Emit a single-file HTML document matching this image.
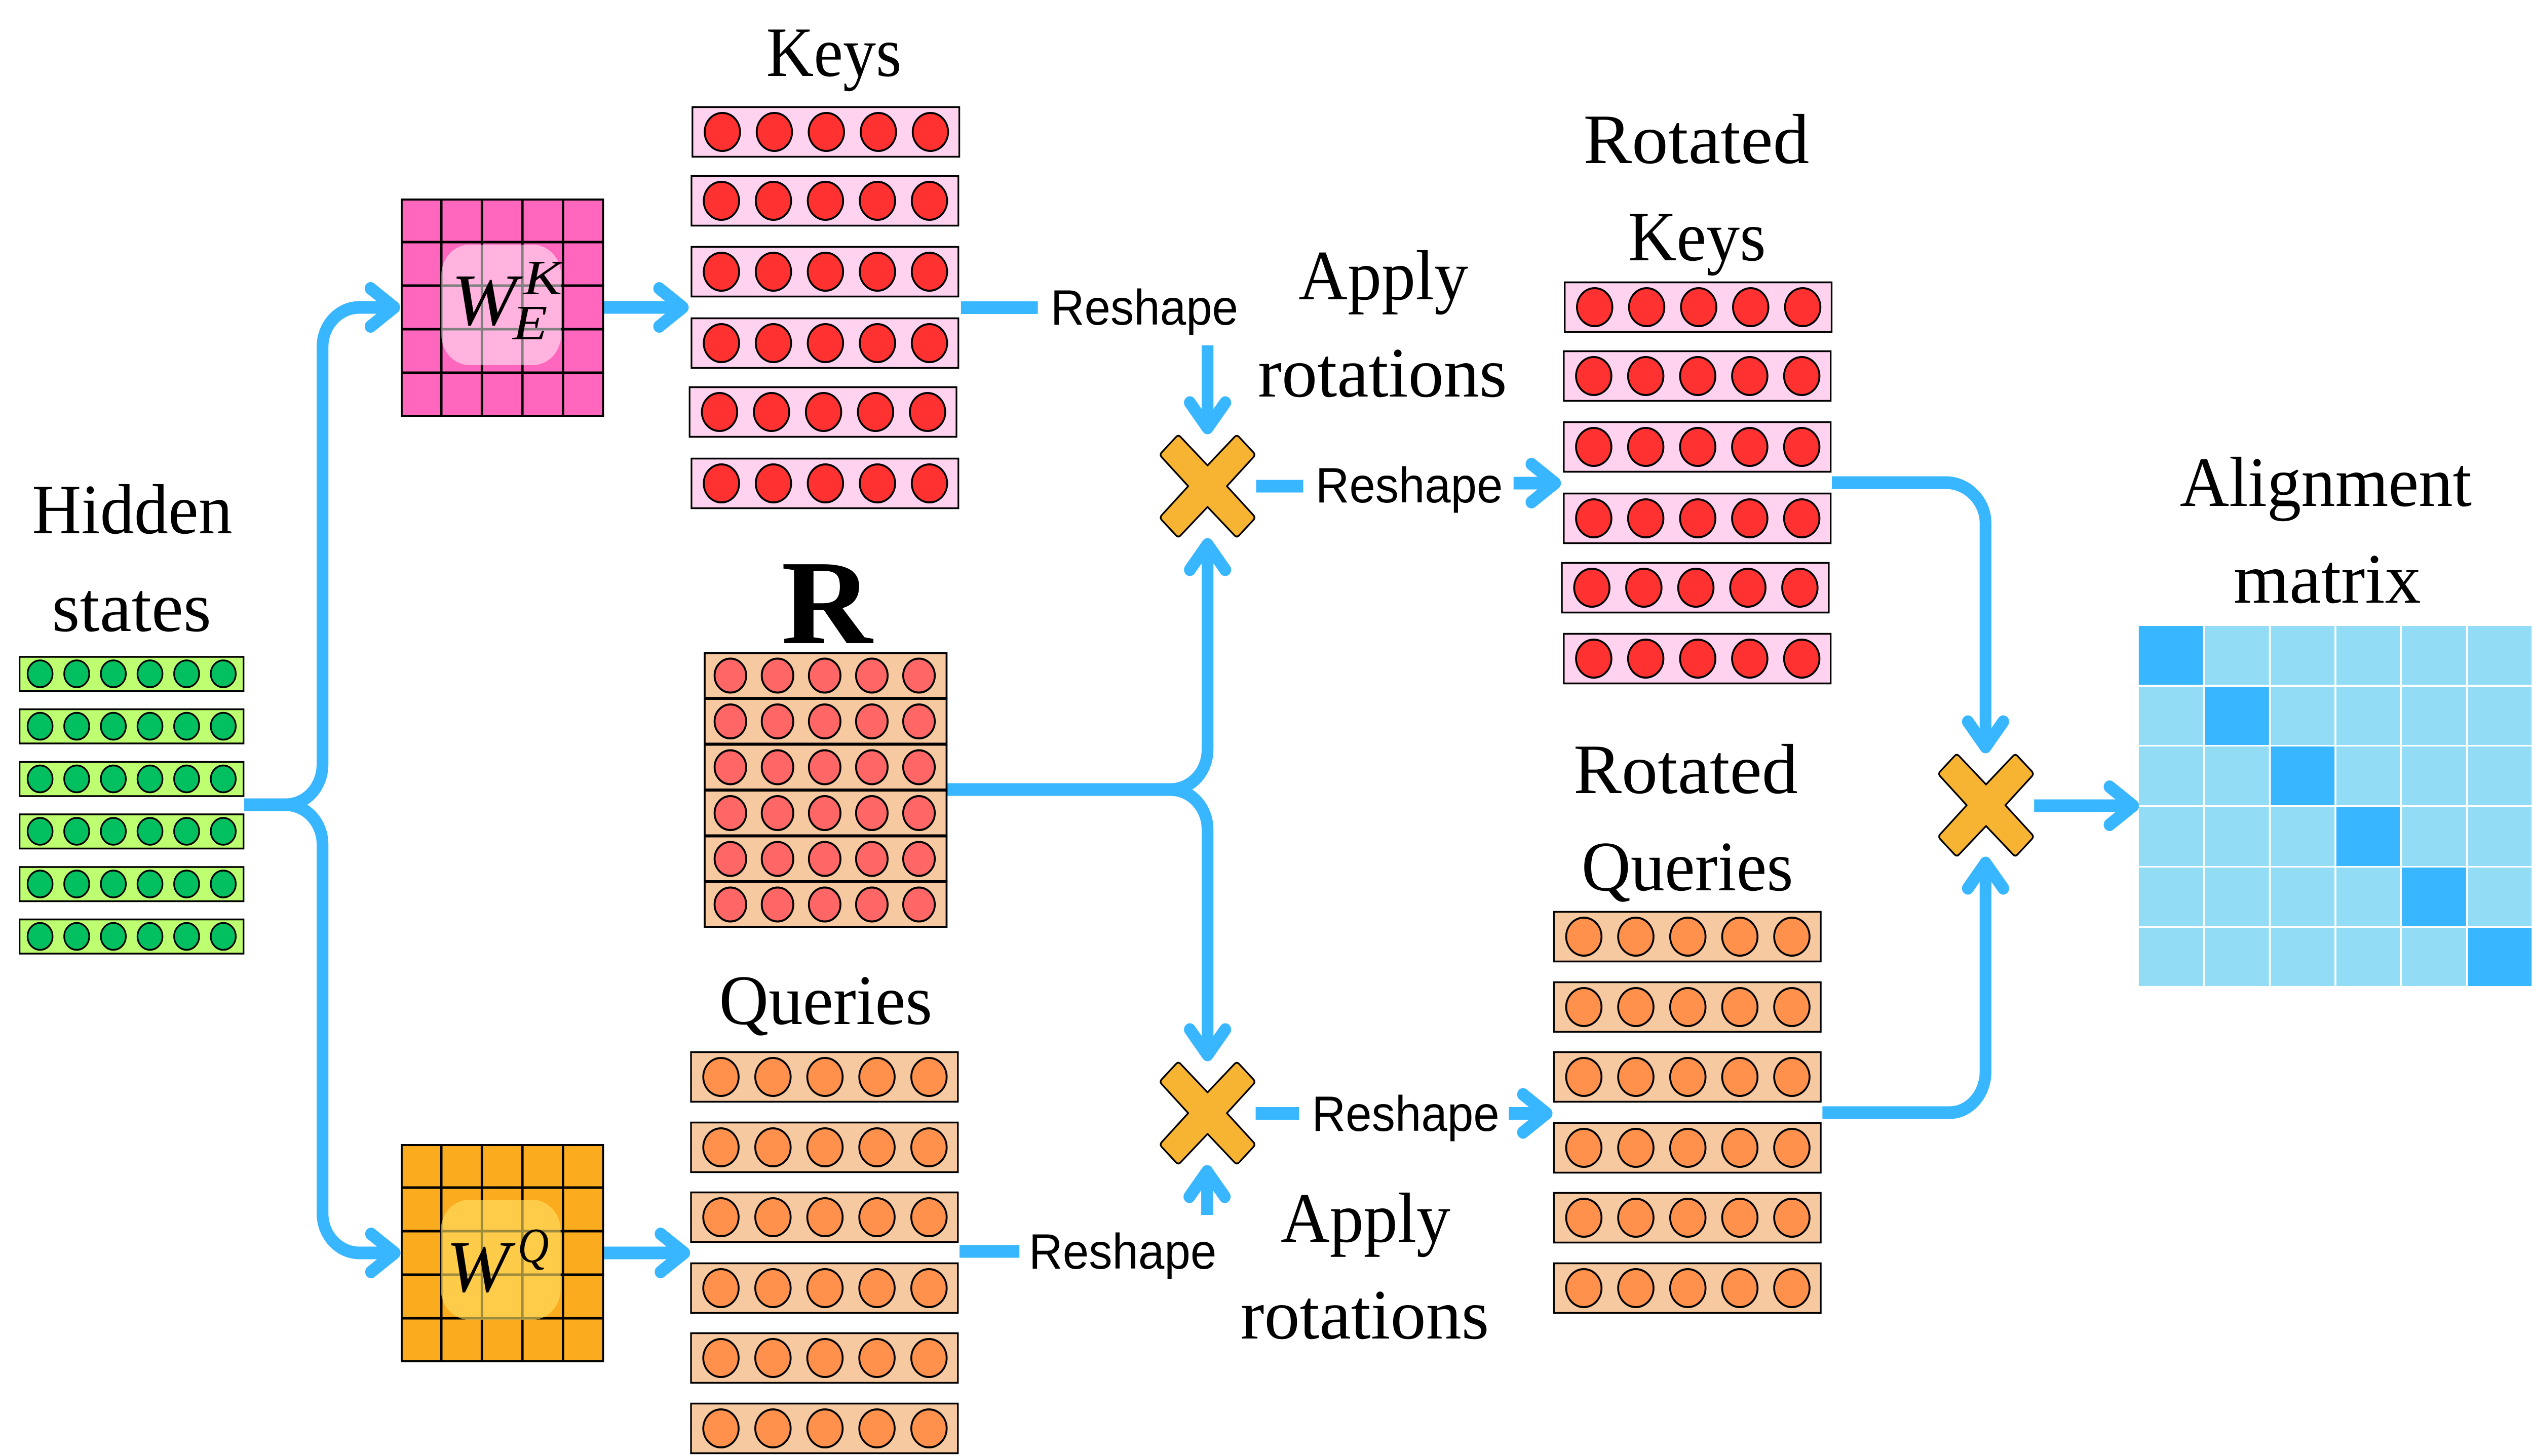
<!DOCTYPE html>
<html><head><meta charset="utf-8"><title>Diagram</title>
<style>html,body{margin:0;padding:0;background:#fff;width:100%;height:100%;overflow:hidden}svg{display:block;position:fixed;left:0;top:0;width:100vw;height:100vh}
.s{font-family:"Liberation Serif",serif;font-size:140px;fill:#000}
.r{font-family:"Liberation Sans",sans-serif;font-size:98px;fill:#000}
.m{font-family:"Liberation Serif",serif;font-style:italic;fill:#000}
.b{fill:none;stroke:#38B6FF;stroke-width:25}
.h{fill:none;stroke:#38B6FF;stroke-width:25;stroke-linecap:round;stroke-linejoin:round}
</style></head><body>
<svg xmlns="http://www.w3.org/2000/svg" viewBox="0 0 5372 2875" preserveAspectRatio="none">
<defs>
<g id="kr"><rect x="1.5" y="1.5" width="566" height="98" fill="#FFD3EF" stroke="#000" stroke-width="3.5"/>
<g fill="#FF3131" stroke="#000" stroke-width="4"><circle cx="65" cy="50.5" r="37.5"/><circle cx="175.3" cy="50.5" r="37.5"/><circle cx="285.6" cy="50.5" r="37.5"/><circle cx="395.9" cy="50.5" r="37.5"/><circle cx="506.2" cy="50.5" r="37.5"/></g></g>
<g id="qr"><rect x="1.5" y="1.5" width="566" height="98" fill="#F7C9A0" stroke="#000" stroke-width="3.5"/>
<g fill="#FF914D" stroke="#000" stroke-width="4"><circle cx="65" cy="50.5" r="37.5"/><circle cx="175.3" cy="50.5" r="37.5"/><circle cx="285.6" cy="50.5" r="37.5"/><circle cx="395.9" cy="50.5" r="37.5"/><circle cx="506.2" cy="50.5" r="37.5"/></g></g>
<g id="rr"><rect x="1.5" y="1.5" width="513" height="88.5" fill="#F7C9A0" stroke="#000" stroke-width="4"/>
<g fill="#FF6666" stroke="#000" stroke-width="4"><circle cx="56" cy="46" r="33.5"/><circle cx="156" cy="46" r="33.5"/><circle cx="256" cy="46" r="33.5"/><circle cx="356" cy="46" r="33.5"/><circle cx="456" cy="46" r="33.5"/></g></g>
<g id="hr"><rect x="1.5" y="1.5" width="475" height="67.5" fill="#BEFF71" stroke="#000" stroke-width="3.5"/>
<g fill="#02BF60" stroke="#000" stroke-width="3.5"><circle cx="45" cy="35" r="26.5"/><circle cx="122.7" cy="35" r="26.5"/><circle cx="200.4" cy="35" r="26.5"/><circle cx="278.1" cy="35" r="26.5"/><circle cx="355.8" cy="35" r="26.5"/><circle cx="433.5" cy="35" r="26.5"/></g></g>
<path id="x" fill="#F7B432" stroke="#000" stroke-width="3.5" stroke-linejoin="round" d="M104,63 L161,7 Q166,2 171,7 L201,37 Q206,42 201,47 L145,104 L201,161 Q206,166 201,171 L171,201 Q166,206 161,201 L104,145 L47,201 Q42,206 37,201 L7,171 Q2,166 7,161 L63,104 L7,47 Q2,42 7,37 L37,7 Q42,2 47,7 Z"/>
<polyline id="a" class="h" points="0,0 50,37.5 0,75"/>
<g id="gl" stroke="#000" stroke-width="5" fill="none"><rect x="2" y="2" width="427" height="427" stroke-width="4"/><path d="M86,0V431M172,0V431M258,0V431M344,0V431M0,86H431M0,172H431M0,258H431M0,344H431"/></g>
</defs>

<rect width="5372" height="2875" fill="#fff"/>

<!-- connectors -->
<path class="b" d="M518,1589 H606 C649,1589 684,1554 684,1509 V685 C684,642 719,607 762,607 H836"/>
<path class="b" d="M518,1589 H606 C649,1589 684,1624 684,1667 V2396 C684,2439 719,2474 762,2474 H837"/>
<use href="#a" transform="translate(836,607) translate(-50,-37.5)"/>
<use href="#a" transform="translate(837,2474) translate(-50,-37.5)"/>
<path class="b" d="M1281,607 H1448"/><use href="#a" transform="translate(1448,607) translate(-50,-37.5)"/>
<path class="b" d="M1281,2474 H1451"/><use href="#a" transform="translate(1451,2474) translate(-50,-37.5)"/>
<path class="b" d="M2038,607.5 H2201"/>
<path class="b" d="M2561,682 V845"/><use href="#a" transform="translate(2561,845) rotate(90) translate(-50,-37.5)"/>
<path class="b" d="M2035,2471 H2162"/>
<path class="b" d="M2560,2399 V2313"/><use href="#a" transform="translate(2560,2313) rotate(-90) translate(-50,-37.5)"/>
<path class="b" d="M2009,1559 H2482 C2526,1559 2561,1524 2561,1480 V1075"/><use href="#a" transform="translate(2561,1075) rotate(-90) translate(-50,-37.5)"/>
<path class="b" d="M2009,1559 H2482 C2526,1559 2561,1594 2561,1638 V2083"/><use href="#a" transform="translate(2561,2083) rotate(90) translate(-50,-37.5)"/>
<path class="b" d="M2664,960 H2764"/>
<path class="b" d="M3210,954 H3298"/><use href="#a" transform="translate(3298,954) translate(-50,-37.5)"/>
<path class="b" d="M2663,2198.5 H2755"/>
<path class="b" d="M3200,2198.5 H3280"/><use href="#a" transform="translate(3280,2198.5) translate(-50,-37.5)"/>
<path class="b" d="M3885,953 H4127 C4173,953 4211,990 4211,1033 V1475"/><use href="#a" transform="translate(4211,1475) rotate(90) translate(-50,-37.5)"/>
<path class="b" d="M3865,2197 H4135 C4177,2197 4211,2160 4211,2116 V1704"/><use href="#a" transform="translate(4211,1704) rotate(-90) translate(-50,-37.5)"/>
<path class="b" d="M4314,1591 H4524"/><use href="#a" transform="translate(4524,1591) translate(-50,-37.5)"/>

<!-- hidden states -->
<use href="#hr" x="40" y="1295.5"/><use href="#hr" x="40" y="1399"/><use href="#hr" x="40" y="1503"/><use href="#hr" x="40" y="1606.5"/><use href="#hr" x="40" y="1710.5"/><use href="#hr" x="40" y="1814"/>

<!-- W matrices -->
<rect x="850" y="392" width="431" height="431" fill="#FF66BD"/>
<use href="#gl" x="850" y="392"/>
<rect x="936" y="483" width="254" height="238" rx="60" fill="#fff" fill-opacity=".5"/>
<rect x="850" y="2259" width="431" height="431" fill="#FBAC1E"/>
<use href="#gl" x="850" y="2259"/>
<rect x="935" y="2369" width="254" height="237" rx="60" fill="#FFE163" fill-opacity=".62"/>

<!-- keys -->
<use href="#kr" x="1467" y="210"/><use href="#kr" x="1465" y="346"/><use href="#kr" x="1465" y="486"/><use href="#kr" x="1465" y="627"/><use href="#kr" x="1461" y="763"/><use href="#kr" x="1465" y="904"/>
<!-- rotated keys -->
<use href="#kr" x="3317" y="556"/><use href="#kr" x="3315" y="692"/><use href="#kr" x="3315" y="832"/><use href="#kr" x="3315" y="973"/><use href="#kr" x="3311" y="1110"/><use href="#kr" x="3315" y="1250"/>
<!-- queries -->
<use href="#qr" x="1464" y="2076"/><use href="#qr" x="1464" y="2215"/><use href="#qr" x="1464" y="2353"/><use href="#qr" x="1464" y="2493"/><use href="#qr" x="1464" y="2631"/><use href="#qr" x="1464" y="2770"/>
<!-- rotated queries -->
<use href="#qr" x="3294" y="1799"/><use href="#qr" x="3294" y="1938"/><use href="#qr" x="3294" y="2076"/><use href="#qr" x="3294" y="2216"/><use href="#qr" x="3294" y="2354"/><use href="#qr" x="3294" y="2493"/>
<!-- R block -->
<use href="#rr" x="1493" y="1288"/><use href="#rr" x="1493" y="1378.5"/><use href="#rr" x="1493" y="1469"/><use href="#rr" x="1493" y="1559.5"/><use href="#rr" x="1493" y="1650"/><use href="#rr" x="1493" y="1740"/>

<!-- crosses -->
<use href="#x" x="2457" y="856"/><use href="#x" x="2457" y="2094"/><use href="#x" x="4108" y="1486"/>

<!-- alignment matrix -->
<rect x="4536" y="1236" width="833" height="711" fill="#92DDF5"/>
<g fill="#fff"><rect x="4672" y="1236" width="4" height="711"/><rect x="4812" y="1236" width="4" height="711"/><rect x="4951" y="1236" width="4" height="711"/><rect x="5090" y="1236" width="4" height="711"/><rect x="5230" y="1236" width="4" height="711"/>
<rect x="4536" y="1352" width="833" height="4"/><rect x="4536" y="1471" width="833" height="3"/><rect x="4536" y="1590" width="833" height="4"/><rect x="4536" y="1710" width="833" height="3"/><rect x="4536" y="1829" width="833" height="3"/></g>
<g fill="#38B6FF"><rect x="4536" y="1236" width="136" height="116"/><rect x="4676" y="1356" width="136" height="115"/><rect x="4816" y="1474" width="135" height="116"/><rect x="4955" y="1594" width="135" height="116"/><rect x="5094" y="1713" width="136" height="116"/><rect x="5234" y="1832" width="135" height="115"/></g>

<!-- serif labels -->
<text class="s" x="1625" y="150" textLength="287" lengthAdjust="spacingAndGlyphs">Keys</text>
<text class="s" x="68" y="1053" textLength="425" lengthAdjust="spacingAndGlyphs">Hidden</text>
<text class="s" x="110" y="1246" textLength="338" lengthAdjust="spacingAndGlyphs">states</text>
<text class="s" x="2754" y="591" textLength="360" lengthAdjust="spacingAndGlyphs">Apply</text>
<text class="s" x="2668" y="783" textLength="528" lengthAdjust="spacingAndGlyphs">rotations</text>
<text class="s" x="2716" y="2452" textLength="360" lengthAdjust="spacingAndGlyphs">Apply</text>
<text class="s" x="2631" y="2643" textLength="527" lengthAdjust="spacingAndGlyphs">rotations</text>
<text class="s" x="3358" y="322" textLength="479" lengthAdjust="spacingAndGlyphs">Rotated</text>
<text class="s" x="3453" y="514" textLength="292" lengthAdjust="spacingAndGlyphs">Keys</text>
<text class="s" x="3337" y="1566" textLength="476" lengthAdjust="spacingAndGlyphs">Rotated</text>
<text class="s" x="3354" y="1758" textLength="449" lengthAdjust="spacingAndGlyphs">Queries</text>
<text class="s" x="1525" y="2022" textLength="452" lengthAdjust="spacingAndGlyphs">Queries</text>
<text class="s" x="4623" y="999" textLength="619" lengthAdjust="spacingAndGlyphs">Alignment</text>
<text class="s" x="4737" y="1190" textLength="397" lengthAdjust="spacingAndGlyphs">matrix</text>
<text x="1657" y="1270" font-family="'Liberation Serif',serif" font-weight="700" font-size="238" textLength="193" lengthAdjust="spacingAndGlyphs">R</text>

<!-- reshape labels -->
<text class="r" x="2228" y="641" textLength="398" lengthAdjust="spacingAndGlyphs">Reshape</text>
<text class="r" x="2790" y="992" textLength="397" lengthAdjust="spacingAndGlyphs">Reshape</text>
<text class="r" x="2782" y="2233" textLength="398" lengthAdjust="spacingAndGlyphs">Reshape</text>
<text class="r" x="2182" y="2505" textLength="398" lengthAdjust="spacingAndGlyphs">Reshape</text>

<!-- math labels -->
<text class="m" x="957" y="641" font-size="145" textLength="139" lengthAdjust="spacingAndGlyphs">W</text>
<text class="m" x="1110" y="581" font-size="98" textLength="82" lengthAdjust="spacingAndGlyphs">K</text>
<text class="m" x="1087" y="670" font-size="98" textLength="74" lengthAdjust="spacingAndGlyphs">E</text>
<text class="m" x="946" y="2550" font-size="145" textLength="135" lengthAdjust="spacingAndGlyphs">W</text>
<text class="m" x="1098" y="2492" font-size="98" textLength="66" lengthAdjust="spacingAndGlyphs">Q</text>
</svg>
</body></html>
